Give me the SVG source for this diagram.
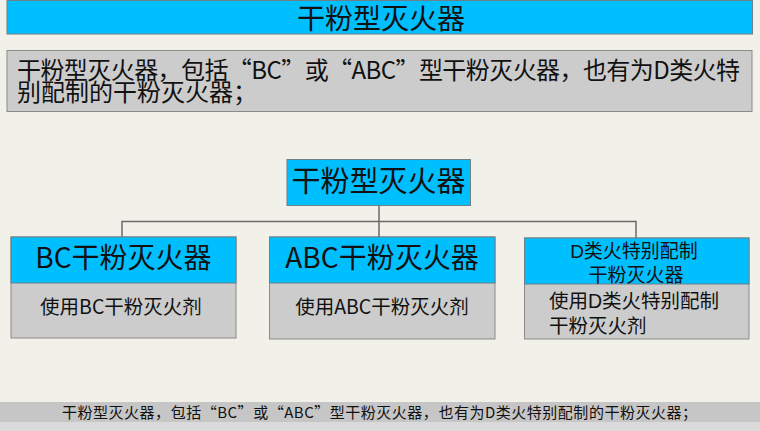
<svg xmlns="http://www.w3.org/2000/svg" width="760" height="431" viewBox="0 0 760 431">
<style>
text { font-family: "Noto Sans CJK SC", "Noto Sans", sans-serif; fill: #111; }
.cjk { font-family: "Liberation Sans", "Noto Sans CJK SC", sans-serif; }
.blue { fill: #00bfff; stroke: #6f7f88; stroke-width: 1; }
.gray { fill: #cccccc; stroke: #8a8a8a; stroke-width: 1; }
.conn { fill: none; stroke: #6a6a6a; stroke-width: 1.5; }
.mid { text-anchor: middle; }
</style>
<rect x="0" y="0" width="760" height="431" fill="#f2f1e9"/>
<g id="title">
<rect class="blue" x="7" y="0.5" width="745.5" height="33.5"/>
<text class="mid cjk" x="381" y="28.5" font-size="28">干粉型灭火器</text>
</g>
<g id="description">
<rect class="gray" x="7" y="50.5" width="745" height="61"/>
<text x="17" y="79" font-size="24" textLength="723" lengthAdjust="spacing">干粉型灭火器，包括“BC”或“ABC”型干粉灭火器，也有为D类火特</text>
<text x="17" y="100.5" font-size="24">别配制的干粉灭火器；</text>
</g>
<g id="connectors">
<path class="conn" d="M379 206 V221.5 M122 237 V221.5 H636 V238 M379 221.5 V237"/>
</g>
<g id="root">
<rect class="blue" x="287" y="159.5" width="183.5" height="46"/>
<text class="mid" x="378.5" y="192" font-size="29">干粉型灭火器</text>
</g>
<g id="bc">
<rect class="gray" x="11" y="237" width="225" height="101"/>
<rect class="blue" x="11" y="237" width="225" height="46"/>
<text class="mid" x="123.5" y="268" font-size="28">BC干粉灭火器</text>
<text class="mid" x="121" y="314" font-size="19.5">使用BC干粉灭火剂</text>
</g>
<g id="abc">
<rect class="gray" x="269.5" y="237" width="225.5" height="102"/>
<rect class="blue" x="269.5" y="237" width="225.5" height="46"/>
<text class="mid" x="382" y="268" font-size="28">ABC干粉灭火器</text>
<text class="mid" x="382" y="314" font-size="19.5">使用ABC干粉灭火剂</text>
</g>
<g id="d">
<rect class="gray" x="524.5" y="238" width="224.5" height="101"/>
<rect class="blue" x="524.5" y="238" width="224.5" height="46"/>
<text class="mid cjk" x="634" y="258" font-size="19">D类火特别配制</text>
<text class="mid cjk" x="636" y="282" font-size="19">干粉灭火器</text>
<text class="cjk" x="549" y="308" font-size="19.5">使用D类火特别配制</text>
<text class="cjk" x="549" y="333" font-size="19.5">干粉灭火剂</text>
</g>
<g id="footer">
<rect x="0" y="402" width="760" height="20" fill="#c6c6c6"/>
<rect x="0" y="422" width="760" height="9" fill="#dadada"/>
<text x="62" y="418" font-size="15" textLength="635" lengthAdjust="spacing">干粉型灭火器，包括“BC”或“ABC”型干粉灭火器，也有为D类火特别配制的干粉灭火器；</text>
</g>
</svg>
